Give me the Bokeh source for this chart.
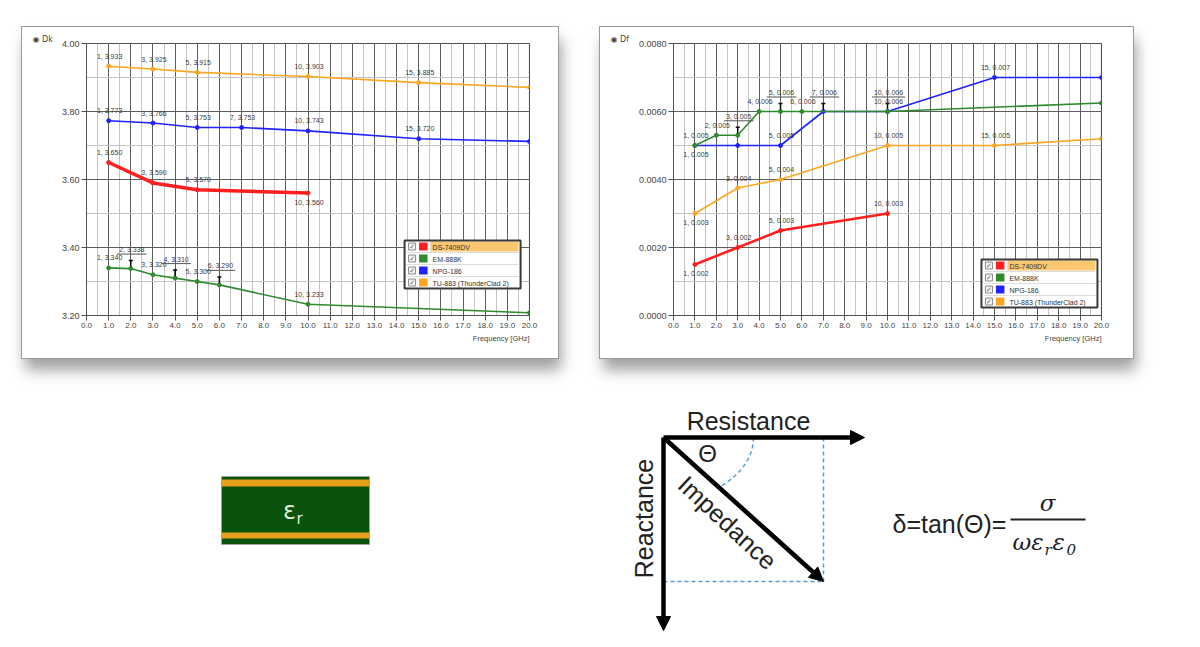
import numpy as np
from bokeh.plotting import figure
from bokeh.layouts import column, row
from bokeh.models import (Spacer, Range1d, SingleIntervalTicker, PrintfTickFormatter, Span, Title,
                          Arrow, NormalHead)
from bokeh.core.properties import value
from bokeh.embed import file_html
from bokeh.resources import INLINE

FONT = "Liberation Sans"

# ---------------- data ----------------
series_names = ["DS-7409DV", "EM-888K", "NPG-186", "TU-883 (ThunderClad 2)"]
series_colors = ["#ff1f1f", "#2e8b2e", "#2222ff", "#ffa620"]

# Dk vs frequency (GHz)
dk_ds_freq = [1, 3, 5, 10]
dk_ds_val = [3.650, 3.590, 3.570, 3.560]
dk_em_freq = [1, 2, 3, 4, 5, 6, 10, 20]
dk_em_val = [3.340, 3.338, 3.320, 3.310, 3.300, 3.290, 3.233, 3.208]
dk_npg_freq = [1, 3, 5, 7, 10, 15, 20]
dk_npg_val = [3.773, 3.766, 3.753, 3.753, 3.743, 3.720, 3.712]
dk_tu_freq = [1, 3, 5, 10, 15, 20]
dk_tu_val = [3.933, 3.925, 3.915, 3.903, 3.885, 3.871]

# Df vs frequency (GHz)
df_ds_freq = [1, 3, 5, 10]
df_ds_val = [0.0015, 0.0020, 0.0025, 0.0030]
df_em_freq = [1, 2, 3, 4, 5, 6, 10, 20]
df_em_val = [0.0050, 0.0053, 0.0053, 0.0060, 0.0060, 0.0060, 0.0060, 0.00625]
df_npg_freq = [1, 3, 5, 7, 10, 15, 20]
df_npg_val = [0.0050, 0.0050, 0.0050, 0.0060, 0.0060, 0.0070, 0.0070]
df_tu_freq = [1, 3, 5, 10, 15, 20]
df_tu_val = [0.0030, 0.00375, 0.0040, 0.0050, 0.0050, 0.0052]

# label placement codes: a = above, b = below, u = raised call-out, "" = none
dk_label_pos = [["a", "a", "a", "b"],
                ["a", "u", "a", "u", "a", "u", "a", ""],
                ["a", "a", "a", "a", "a", "a", ""],
                ["a", "a", "a", "a", "a", ""]]
df_label_pos = [["b", "a", "a", "a"],
                ["a", "a", "u", "a", "u", "a", "a", ""],
                ["b", "", "a", "u", "u", "a", ""],
                ["b", "a", "a", "a", "a", ""]]

series_widths = [3.5, 1.6, 1.6, 1.6]


def make_chart(frame_w, left, right, y0, y1, ymajor, yfmt, ylabel):
    top, bottom, frame_h = 16, 43, 272
    p = figure(width=left + frame_w + right, height=top + frame_h + bottom,
               x_range=Range1d(0, 20), y_range=Range1d(y0, y1),
               toolbar_location=None, output_backend="svg",
               min_border_left=left, min_border_right=right,
               min_border_top=top, min_border_bottom=bottom,
               styles={"outline": "1px solid #9a9a9a",
                       "box-shadow": "3px 12px 14px rgba(0,0,0,0.38)"})
    p.background_fill_color = "white"
    p.border_fill_color = "white"
    p.outline_line_color = "#505050"
    p.xaxis.ticker = SingleIntervalTicker(interval=1, num_minor_ticks=2)
    p.yaxis.ticker = SingleIntervalTicker(interval=ymajor, num_minor_ticks=2)
    p.xaxis.formatter = PrintfTickFormatter(format="%.1f")
    p.yaxis.formatter = PrintfTickFormatter(format=yfmt)
    for ax in (p.xaxis, p.yaxis):
        ax.major_label_text_font = FONT
        ax.major_label_text_color = "#444444"
        ax.axis_line_color = "#505050"
        ax.major_tick_line_color = "#505050"
        ax.minor_tick_line_color = None
        ax.major_tick_in = 0
        ax.major_tick_out = 5
        ax.major_label_standoff = 2
    p.xaxis.major_label_text_font_size = "8px"
    p.yaxis.major_label_text_font_size = "9px"
    for g in (p.xgrid, p.ygrid):
        g.grid_line_color = "#5e5e5e"
        g.grid_line_width = 1
        g.minor_grid_line_color = "#c4c4c4"
        g.minor_grid_line_width = 1
    p.add_layout(Span(location=20, dimension="height", line_color="#3030ff",
                      line_dash="2 2", line_width=1.2))
    p.add_layout(Title(text="\u25c9 " + ylabel, align="left", offset=-(left - 10),
                       text_font="DejaVu Sans", text_font_size="8px", text_font_style="normal",
                       text_color="#444444", standoff=0), "above")
    p.add_layout(Title(text="Frequency [GHz]", align="right", text_font=FONT,
                       text_font_size="7.5px", text_font_style="normal",
                       text_color="#444444", standoff=2), "below")
    kx = 20.0 / frame_w
    ky = (y1 - y0) / frame_h
    return p, kx, ky


def draw_series(p, kx, ky, xs, ys, color, lw, pos, lab_fmt):
    p.line(xs, ys, line_color=color, line_width=lw)
    p.scatter(xs, ys, size=4, color=color)
    tx, ty, tt = [], [], []
    ux0, ux1, uy = [], [], []
    mx, my0, my1 = [], [], []
    for x, y, code in zip(xs, ys, pos):
        if not code:
            continue
        t = lab_fmt(x, y)
        if code == "a":
            tx.append(x + 1 * kx); ty.append(y + 10 * ky); tt.append(t)
        elif code == "b":
            tx.append(x + 1 * kx); ty.append(y - 9 * ky); tt.append(t)
        else:
            tx.append(x + 1 * kx); ty.append(y + 19 * ky); tt.append(t)
            w = 3.45 * len(t) + 2
            ux0.append(x + 1 * kx - w / 2 * kx); ux1.append(x + 1 * kx + w / 2 * kx)
            uy.append(y + 14.5 * ky)
            mx.append(x); my0.append(y + 2 * ky); my1.append(y + 8 * ky)
    p.text(tx, ty, text=tt, text_font=value(FONT), text_font_size="7px",
           text_color="#3a3a3a", text_align="center", text_baseline="middle")
    if ux0:
        p.segment(ux0, uy, ux1, uy, line_color="#555555", line_width=1)
        p.segment(mx, my0, mx, my1, line_color="black", line_width=1.5)
        p.segment([m - 2 * kx for m in mx], my1, [m + 2 * kx for m in mx], my1,
                  line_color="black", line_width=1.5)


def add_legend(p, kx, ky, left, top):
    row_h, w = 12, 116
    n = len(series_names)
    X = lambda px: left + px * kx
    Y = lambda px: top - px * ky
    p.quad(left=X(0), right=X(w), top=Y(0), bottom=Y(row_h * n), fill_color="white", line_color=None)
    p.quad(left=X(26), right=X(w - 2), top=Y(1), bottom=Y(row_h - 1), fill_color="#fbc770", line_color=None)
    p.segment([X(2)] * (n - 1), [Y((i + 1) * row_h) for i in range(n - 1)],
              [X(w - 2)] * (n - 1), [Y((i + 1) * row_h) for i in range(n - 1)],
              line_color="#dddddd", line_width=1)
    p.quad(left=[X(4)] * n, right=[X(11)] * n,
           top=[Y(i * row_h + 2.5) for i in range(n)], bottom=[Y(i * row_h + 9.5) for i in range(n)],
           fill_color="#f4f4f4", line_color="#8a8a8a", line_width=1)
    p.text([X(7.5)] * n, [Y(i * row_h + 6) for i in range(n)], text=["\u2713"] * n,
           text_font=value("DejaVu Sans"), text_font_size="7px", text_color="#666666",
           text_align="center", text_baseline="middle")
    p.quad(left=[X(14.5)] * n, right=[X(23)] * n,
           top=[Y(i * row_h + 2) for i in range(n)], bottom=[Y(i * row_h + 10) for i in range(n)],
           fill_color=series_colors, line_color=None)
    p.text([X(28)] * n, [Y(i * row_h + 6.5) for i in range(n)], text=series_names,
           text_font=value(FONT), text_font_size="7px", text_color="#333333",
           text_baseline="middle")
    p.quad(left=X(0), right=X(w), top=Y(0), bottom=Y(row_h * n), fill_color=None,
           line_color="#3a3a3a", line_width=2)


# ---------------- Dk chart ----------------
p1, kx1, ky1 = make_chart(443, 64, 29, 3.2, 4.0, 0.2, "%.2f", "Dk")
dk_sets = [(dk_ds_freq, dk_ds_val), (dk_em_freq, dk_em_val),
           (dk_npg_freq, dk_npg_val), (dk_tu_freq, dk_tu_val)]
for i in [3, 2, 1, 0]:
    xs, ys = dk_sets[i]
    draw_series(p1, kx1, ky1, xs, ys, series_colors[i], series_widths[i], dk_label_pos[i],
                lambda x, y: f"{x}, {y:.3f}")
add_legend(p1, kx1, ky1, 14.36, 3.2 + 75 * ky1)

# ---------------- Df chart ----------------
p2, kx2, ky2 = make_chart(428, 73, 32, 0.0, 0.008, 0.002, "%.4f", "Df")
df_sets = [(df_ds_freq, df_ds_val), (df_em_freq, df_em_val),
           (df_npg_freq, df_npg_val), (df_tu_freq, df_tu_val)]
df_widths = [2.6, 1.6, 1.6, 1.6]
for i in [3, 2, 1, 0]:
    xs, ys = df_sets[i]
    draw_series(p2, kx2, ky2, xs, ys, series_colors[i], df_widths[i], df_label_pos[i],
                lambda x, y: f"{x}, {y:.3f}")
add_legend(p2, kx2, ky2, 14.39, 56 * ky2)

# ---------------- bottom diagrams ----------------
p3 = figure(width=1200, height=289, x_range=Range1d(0, 1200), y_range=Range1d(647, 358),
            toolbar_location=None, output_backend="svg", x_axis_location=None,
            y_axis_location=None, min_border=0)
p3.background_fill_color = None
p3.border_fill_color = None
p3.outline_line_color = None
p3.grid.visible = False

# PCB stack-up
pcb_box = (221, 369, 476, 544)
pcb_copper = [(479, 486), (532, 538)]
p3.quad(left=pcb_box[0], right=pcb_box[1], top=pcb_box[2], bottom=pcb_box[3],
        fill_color="#0b520b", line_color="#9aa69a", line_width=1)
p3.quad(left=[pcb_box[0]] * 2, right=[pcb_box[1]] * 2,
        top=[c[0] for c in pcb_copper], bottom=[c[1] for c in pcb_copper],
        fill_color="#e6a11c", line_color=None)
p3.text([289], [510], text=["\u03b5"], text_font=value("DejaVu Sans"), text_font_size="24px",
        text_color="#dfe9df", text_align="center", text_baseline="middle")
p3.text([296], [518], text=["r"], text_font=value("DejaVu Sans"), text_font_size="15px",
        text_color="#dfe9df", text_align="left", text_baseline="middle")

# impedance triangle
origin = (663, 437)
res_end = (864, 437)
rea_end = (663, 630)
imp_end = (823, 581)
dash_col = "#5b9bd5"
p3.segment([imp_end[0], origin[0]], [origin[1], imp_end[1]], [imp_end[0], imp_end[0]],
           [imp_end[1], imp_end[1]], line_color=dash_col, line_dash="4 3", line_width=1.5)
t = np.linspace(0, np.radians(52), 40)
p3.line(origin[0] + 90 * np.cos(t), origin[1] + 63 * np.sin(t), line_color=dash_col,
        line_dash="4 3", line_width=1.5)
for end in (res_end, rea_end, imp_end):
    p3.add_layout(Arrow(end=NormalHead(size=14, fill_color="black", line_color="black"),
                        x_start=origin[0], y_start=origin[1], x_end=end[0], y_end=end[1],
                        line_color="black", line_width=4.5))
p3.text([748], [420], text=["Resistance"], text_font=value(FONT), text_font_size="25px",
        text_color="#222222", text_align="center", text_baseline="middle")
p3.text([707], [453], text=["\u0398"], text_font=value(FONT), text_font_size="24px",
        text_color="#222222", text_align="center", text_baseline="middle")
p3.text([643], [518], text=["Reactance"], angle=np.pi / 2, text_font=value(FONT),
        text_font_size="25px", text_color="#222222", text_align="center", text_baseline="middle")
p3.text([727], [522], text=["Impedance"], angle=-np.radians(43), text_font=value(FONT),
        text_font_size="25px", text_color="#222222", text_align="center", text_baseline="middle")

# loss tangent formula
p3.text([892], [523], text=["\u03b4=tan(\u0398)="], text_font=value(FONT), text_font_size="25px",
        text_color="#222222", text_align="left", text_baseline="middle")
p3.segment([1010], [519], [1085], [519], line_color="#222222", line_width=2)
p3.text([1047], [502], text=["\u03c3"], text_font=value("DejaVu Serif"), text_font_style="italic",
        text_font_size="23px", text_color="#222222", text_align="center", text_baseline="middle")
p3.text([1012, 1052], [541, 541], text=["\u03c9\u03b5", "\u03b5"], text_font=value("DejaVu Serif"),
        text_font_style="italic", text_font_size="23px", text_color="#222222",
        text_align="left", text_baseline="middle")
p3.text([1044, 1066], [549, 549], text=["r", "0"], text_font=value("DejaVu Serif"),
        text_font_style="italic", text_font_size="15px", text_color="#222222",
        text_align="left", text_baseline="middle")

layout = column(Spacer(width=1200, height=27),
                row(Spacer(width=22, height=331), p1, Spacer(width=42, height=331), p2),
                p3)

open("out.html", "w").write(file_html(layout, INLINE))
